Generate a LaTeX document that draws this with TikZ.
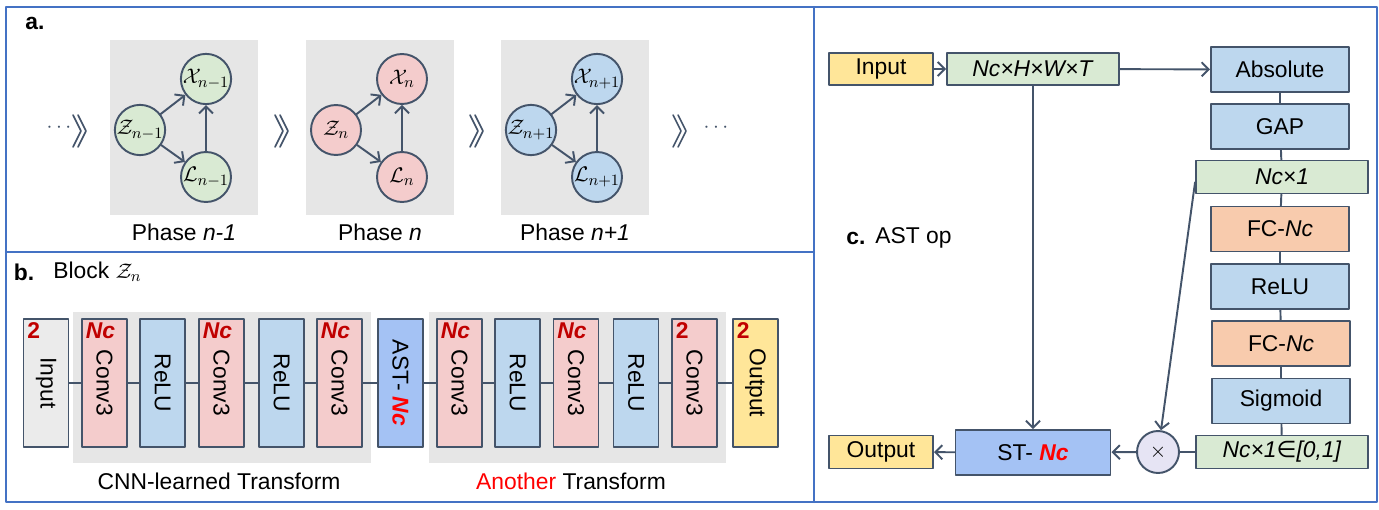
\documentclass[tikz,border=0pt]{standalone}
\usepackage{fontspec}
\setmainfont{Liberation Sans}
\newfontfamily\symfont{DejaVu Sans}
\usepackage{graphicx}
\usetikzlibrary{arrows.meta}
\usetikzlibrary{positioning}
\definecolor{slate}{HTML}{44546A}
\definecolor{framec}{HTML}{4472C4}
\definecolor{bgray}{HTML}{E6E6E6}
\definecolor{ingray}{HTML}{EBEBEB}
\definecolor{greenc}{HTML}{D9EAD3}
\definecolor{pinkc}{HTML}{F4CCCC}
\definecolor{bluec}{HTML}{BDD7EE}
\definecolor{astc}{HTML}{A4C2F4}
\definecolor{orangec}{HTML}{F8CBAD}
\definecolor{yellowc}{HTML}{FFE699}
\definecolor{mulc}{HTML}{E6E4F4}
\definecolor{darkred}{HTML}{C00000}
\begin{document}
\begin{tikzpicture}[x=0.02cm,y=-0.02cm,line cap=round,line join=round,
  every node/.style={font=\fontsize{13}{15}\selectfont},
  link/.style={draw=slate,line width=1.1pt},
  arr/.style={link,-{Straight Barb[length=4pt,width=8pt]}},
  cell/.style={link,circle,minimum size=1cm,inner sep=0pt,font=\fontsize{13}{15}\selectfont},
  layer/.style={link,minimum width=0.9cm,minimum height=2.56cm,inner sep=0pt},
  chan/.style={anchor=north west,inner sep=2.5pt,text=darkred,font=\fontsize{13}{15}\selectfont\bfseries},
  opbox/.style={link,minimum width=2.76cm,minimum height=0.9cm,inner sep=0pt},
  dimbox/.style={link,fill=greenc,minimum width=3.44cm,minimum height=0.66cm,inner sep=0pt}]
\useasboundingbox (0,0) rectangle (1379,510);
% frames
\draw[framec,line width=1.2pt] (6,7) rectangle (1377,502);
\draw[framec,line width=1.2pt] (814,7) -- (814,502);
\draw[framec,line width=1.2pt] (6,252) -- (814,252);

% a. phases
\node[font=\fontsize{13}{15}\selectfont\bfseries] (ta) at (35,23) {a.};
\foreach \px/\nm/\sub/\col in {110/a/{n-1}/greenc, 306/b/n/pinkc, 501/c/{n+1}/bluec}{
  \fill[bgray] (\px,40) rectangle (\px+148,215);
  \node[cell,fill=\col] (z\nm) at (\px+30,130) {$\mathcal{Z}_{\sub}$};
  \node[cell,fill=\col] (x\nm) at (\px+96,79) {$\mathcal{X}_{\sub}$};
  \node[cell,fill=\col] (l\nm) at (\px+96,177) {$\mathcal{L}_{\sub}$};
  \draw[arr] (z\nm) -- (x\nm);
  \draw[arr] (z\nm) -- (l\nm);
  \draw[arr] (l\nm) -- (x\nm);
  \node (p\nm) at (\px+74,232) {Phase \textit{\sub}};
}
\foreach \cx in {73,275,470,673}{
  \draw[link,line width=0.9pt] (\cx,115) -- (\cx+8,131) -- (\cx,147);
  \draw[link,line width=0.9pt] (\cx+5,115) -- (\cx+13,131) -- (\cx+5,147);
}
\node[text=slate] (dl) at (59,128) {$\cdots$};
\node[text=slate] (dr) at (716,128) {$\cdots$};

% b. block
\node[font=\fontsize{13}{15}\selectfont\bfseries] (tb) at (24,272) {b.};
\node[anchor=west,inner sep=0pt] (tblk) at (53,272) {Block $\mathcal{Z}_n$};
\fill[bgray] (73,312) rectangle (371,463);
\fill[bgray] (429,312) rectangle (726,463);
\node[layer,fill=ingray,label={[chan]north west:2}] (inp) at (46,383) {\rotatebox{-90}{Input}};
\node[layer,fill=pinkc,label={[chan,font=\fontsize{13}{15}\selectfont\bfseries\itshape]north west:Nc}] (c1) at (104.5,383) {\rotatebox{-90}{Conv3}};
\node[layer,fill=bluec] (r1) at (162.5,383) {\rotatebox{-90}{ReLU}};
\node[layer,fill=pinkc,label={[chan,font=\fontsize{13}{15}\selectfont\bfseries\itshape]north west:Nc}] (c2) at (221.5,383) {\rotatebox{-90}{Conv3}};
\node[layer,fill=bluec] (r2) at (281.5,383) {\rotatebox{-90}{ReLU}};
\node[layer,fill=pinkc,label={[chan,font=\fontsize{13}{15}\selectfont\bfseries\itshape]north west:Nc}] (c3) at (339.5,383) {\rotatebox{-90}{Conv3}};
\node[layer,fill=astc] (ast) at (400.5,383) {\rotatebox{-90}{AST- \textcolor{red}{\bfseries\itshape Nc}}};
\node[layer,fill=pinkc,label={[chan,font=\fontsize{13}{15}\selectfont\bfseries\itshape]north west:Nc}] (c4) at (459.5,383) {\rotatebox{-90}{Conv3}};
\node[layer,fill=bluec] (r3) at (517.5,383) {\rotatebox{-90}{ReLU}};
\node[layer,fill=pinkc,label={[chan,font=\fontsize{13}{15}\selectfont\bfseries\itshape]north west:Nc}] (c5) at (576,383) {\rotatebox{-90}{Conv3}};
\node[layer,fill=bluec] (r4) at (636,383) {\rotatebox{-90}{ReLU}};
\node[layer,fill=pinkc,label={[chan]north west:2}] (c6) at (694.5,383) {\rotatebox{-90}{Conv3}};
\node[layer,fill=yellowc,label={[chan]north west:2}] (outb) at (755.5,383) {\rotatebox{-90}{Output}};
\draw[link] (inp) -- (c1) -- (r1) -- (c2) -- (r2) -- (c3) -- (ast) -- (c4) -- (r3) -- (c5) -- (r4) -- (c6) -- (outb);
\node (cnn) at (219,481) {CNN-learned Transform};
\node (oth) at (571,481) {\textcolor{red}{Another} Transform};

% c. AST op
\node[font=\fontsize{13}{15}\selectfont\bfseries] (tc) at (856,238) {c.};
\node[anchor=west,inner sep=0pt] (tast) at (875,238) {AST op};
\node[link,fill=yellowc,minimum width=2.08cm,minimum height=0.64cm,inner sep=0pt] (cin) at (881,69) {Input};
\node[dimbox,minimum height=0.64cm] (cdim) at (1033,69) {\textit{Nc×H×W×T}};
\node[opbox,fill=bluec] (abs) at (1280,69.5) {Absolute};
\node[opbox,fill=bluec] (gap) at (1280,126.5) {GAP};
\node[dimbox] (vec) at (1282,177) {\textit{Nc×1}};
\node[opbox,fill=orangec] (fc1) at (1280,229) {FC-\textit{Nc}};
\node[opbox,fill=bluec] (relu) at (1280,286.5) {ReLU};
\node[opbox,fill=orangec] (fc2) at (1281,343.5) {FC-\textit{Nc}};
\node[opbox,fill=bluec] (sig) at (1281,401) {Sigmoid};
\node[dimbox] (wgt) at (1282,452) {\textit{Nc×1}{\symfont ∈}\textit{[0,1]}};
\node[link,circle,fill=mulc,minimum size=0.84cm,inner sep=0pt] (mul) at (1158,452) {$\times$};
\node[opbox,fill=astc,minimum width=3.1cm] (st) at (1033,452.5) {ST- \textcolor{red}{\bfseries\itshape Nc}};
\node[link,fill=yellowc,minimum width=2.08cm,minimum height=0.66cm,inner sep=0pt] (cout) at (881,452) {Output};
\draw[arr] (cin) -- (cdim);
\draw[arr] (cdim) -- (abs);
\draw[link] (abs) -- (gap) -- (vec) -- (fc1) -- (relu) -- (fc2) -- (sig) -- (wgt);
\draw[arr] (cdim) -- (st);
\draw[arr] ([yshift=-3pt]vec.west) -- (mul);
\draw[link] (wgt) -- (mul);
\draw[arr] (mul) -- (st);
\draw[arr] (st) -- (cout);
\end{tikzpicture}
\end{document}
